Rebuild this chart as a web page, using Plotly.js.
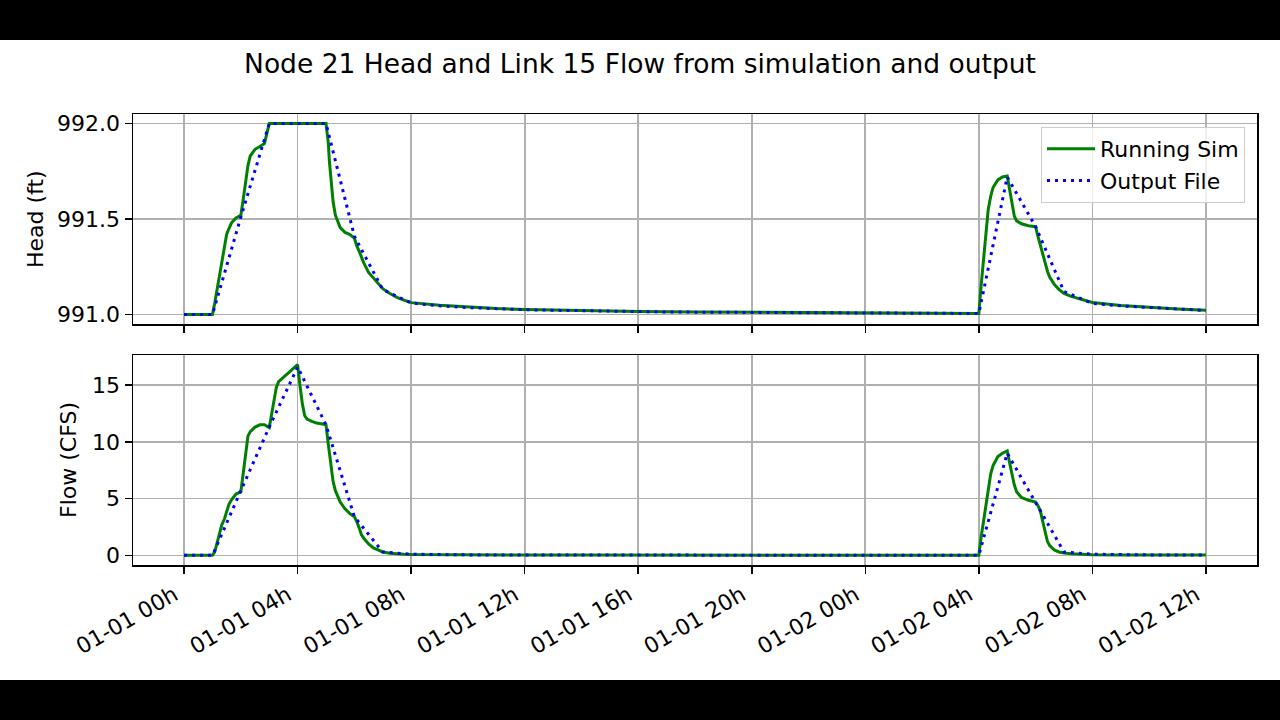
<!DOCTYPE html>
<html>
<head>
<meta charset="utf-8">
<script src="https://cdn.plot.ly/plotly-3.0.1.min.js"></script>
<style>
  html, body { margin: 0; padding: 0; background: #000; width: 1280px; height: 720px; overflow: hidden; }
  #plot { position: absolute; left: 0; top: 40px; width: 1280px; height: 640px; background: #fff; }
</style>
</head>
<body>
<div id="plot"></div>
<script>
// ---- Data (hours since 01-01 00h) ----
const simHeadHours = [0, 1.0, 1.08, 1.17, 1.25, 1.33, 1.42, 1.5, 1.58, 1.67, 1.83, 2.0, 2.08, 2.17, 2.25, 2.33, 2.5, 2.67, 2.83, 2.92, 3.0,
  5.0, 5.08, 5.12, 5.17, 5.25, 5.33, 5.42, 5.5, 5.67, 5.83, 6.0, 6.08, 6.17, 6.33, 6.5, 6.67, 6.83, 7.0, 7.25, 7.5, 7.75, 8.0,
  9, 10, 11, 12, 14, 16, 18, 20, 22, 24, 26, 27,
  28.0, 28.08, 28.17, 28.25, 28.33, 28.42, 28.5, 28.67, 28.83, 29.0, 29.08, 29.17, 29.25, 29.33, 29.5, 29.75, 30.0,
  30.08, 30.17, 30.25, 30.33, 30.42, 30.5, 30.67, 30.83, 31.0, 31.25, 31.5, 31.75, 32.0, 33, 34, 35, 36];
const simHead = [991.0, 991.0, 991.06, 991.14, 991.22, 991.29, 991.37, 991.42, 991.45, 991.48, 991.505, 991.52, 991.6, 991.7, 991.78, 991.83, 991.865, 991.88, 991.895, 991.95, 992.0,
  992.0, 991.9, 991.8, 991.7, 991.59, 991.52, 991.48, 991.455, 991.43, 991.42, 991.40, 991.36, 991.33, 991.27, 991.22, 991.19, 991.16, 991.135, 991.11, 991.09, 991.075, 991.062,
  991.048, 991.038, 991.031, 991.026, 991.02, 991.016, 991.013, 991.011, 991.009, 991.008, 991.007, 991.006,
  991.005, 991.15, 991.30, 991.45, 991.55, 991.62, 991.665, 991.705, 991.72, 991.725, 991.65, 991.565, 991.515, 991.49, 991.475, 991.465, 991.46,
  991.41, 991.36, 991.32, 991.27, 991.225, 991.195, 991.155, 991.13, 991.11, 991.095, 991.083, 991.072, 991.063, 991.047, 991.037, 991.029, 991.022];

const simFlowHours = [0, 1.0, 1.08, 1.17, 1.25, 1.33, 1.42, 1.5, 1.58, 1.67, 1.83, 2.0, 2.08, 2.17, 2.25, 2.33, 2.5, 2.67, 2.83, 3.0,
  3.08, 3.17, 3.25, 3.33, 3.5, 3.67, 3.83, 4.0, 4.08, 4.17, 4.25, 4.33, 4.5, 4.67, 4.83, 5.0,
  5.08, 5.17, 5.25, 5.33, 5.5, 5.67, 5.83, 6.0, 6.08, 6.17, 6.25, 6.33, 6.5, 6.67, 6.83, 7.0, 7.25, 7.5, 7.75, 8.0,
  9, 10, 11, 12, 14, 16, 18, 20, 22, 24, 26, 27,
  28.0, 28.08, 28.17, 28.25, 28.33, 28.42, 28.5, 28.67, 28.83, 29.0, 29.08, 29.17, 29.25, 29.33, 29.5, 29.75, 30.0,
  30.08, 30.17, 30.25, 30.33, 30.42, 30.5, 30.67, 30.83, 31.0, 31.25, 31.5, 31.75, 32.0, 33, 34, 35, 36];
const simFlow = [0, 0, 0.3, 1.2, 2.0, 2.7, 3.2, 3.9, 4.5, 4.9, 5.4, 5.6, 7.2, 9.0, 10.5, 10.9, 11.3, 11.5, 11.5, 11.25,
  12.5, 13.8, 14.8, 15.3, 15.7, 16.1, 16.45, 16.8, 15.0, 13.3, 12.3, 12.0, 11.8, 11.65, 11.6, 11.5,
  9.8, 7.8, 6.5, 5.7, 4.7, 4.1, 3.7, 3.4, 3.0, 2.4, 1.8, 1.5, 1.0, 0.65, 0.45, 0.3, 0.18, 0.12, 0.09, 0.07,
  0.05, 0.04, 0.03, 0.025, 0.02, 0.015, 0.012, 0.01, 0.008, 0.007, 0.006, 0.005,
  0.005, 1.6, 3.0, 4.4, 5.8, 7.2, 7.9, 8.7, 9.0, 9.2, 8.2, 7.1, 6.2, 5.6, 5.1, 4.85, 4.7,
  4.4, 3.9, 3.0, 2.0, 1.2, 0.85, 0.45, 0.3, 0.2, 0.15, 0.1, 0.08, 0.06, 0.04, 0.03, 0.025, 0.02];

const outHours = [0, 1, 2, 3, 4, 5, 6, 7, 8, 9, 10, 11, 12, 13, 14, 15, 16, 17, 18, 19, 20, 21, 22, 23, 24, 25, 26, 27, 28, 29, 30, 31, 32, 33, 34, 35, 36];
const outHead = [991.0, 991.0, 991.51, 992.0, 992.0, 992.0, 991.41, 991.13, 991.06, 991.045, 991.036, 991.030, 991.025, 991.022, 991.019, 991.017, 991.015, 991.013, 991.012, 991.011, 991.010, 991.009, 991.008, 991.007, 991.007, 991.006, 991.006, 991.005, 991.005, 991.72, 991.46, 991.12, 991.058, 991.045, 991.036, 991.029, 991.021];
const outFlow = [0, 0, 5.7, 11.3, 16.6, 11.5, 3.4, 0.3, 0.1, 0.05, 0.04, 0.03, 0.025, 0.022, 0.02, 0.018, 0.016, 0.014, 0.012, 0.011, 0.01, 0.009, 0.008, 0.007, 0.006, 0.006, 0.005, 0.005, 0.005, 9.0, 4.7, 0.3, 0.1, 0.05, 0.04, 0.03, 0.02];

const seriesNames = ["Running Sim", "Output File"];
const titleText = "Node 21 Head and Link 15 Flow from simulation and output";
const yTitles = ["Head (ft)", "Flow (CFS)"];

// ---- helpers ----
const base = Date.UTC(2021, 0, 1, 0, 0, 0);
function toDate(h) {
  const d = new Date(base + Math.round(h * 3600) * 1000);
  const p = n => String(n).padStart(2, '0');
  return d.getUTCFullYear() + '-' + p(d.getUTCMonth() + 1) + '-' + p(d.getUTCDate()) + ' ' +
    p(d.getUTCHours()) + ':' + p(d.getUTCMinutes()) + ':' + p(d.getUTCSeconds());
}

const green = '#008000';
const blue = '#0000ff';
const FONT = 'DejaVu Sans, Liberation Sans, sans-serif';
const FS = 22;

const traces = [
  { x: simHeadHours.map(toDate), y: simHead, xaxis: 'x', yaxis: 'y', mode: 'lines', name: seriesNames[0],
    line: { color: green, width: 3 }, legendgroup: 'a' },
  { x: outHours.map(toDate), y: outHead, xaxis: 'x', yaxis: 'y', mode: 'lines', name: seriesNames[1],
    line: { color: blue, width: 3, dash: '3px,5px' }, legendgroup: 'b' },
  { x: simFlowHours.map(toDate), y: simFlow, xaxis: 'x2', yaxis: 'y2', mode: 'lines', name: seriesNames[0],
    line: { color: green, width: 3 }, showlegend: false, legendgroup: 'a' },
  { x: outHours.map(toDate), y: outFlow, xaxis: 'x2', yaxis: 'y2', mode: 'lines', name: seriesNames[1],
    line: { color: blue, width: 3, dash: '3px,5px' }, showlegend: false, legendgroup: 'b' }
];

const xRange = [toDate(-1.8), toDate(37.8)];
const axCommon = {
  showline: true, mirror: true, linecolor: '#000', linewidth: 1.5,
  ticks: 'outside', ticklen: 7, tickwidth: 1.5, tickcolor: '#000',
  showgrid: true, gridcolor: '#b0b0b0', gridwidth: 1.6,
  zeroline: false,
  tickfont: { family: FONT, size: FS, color: '#000' }
};

const layout = {
  width: 1280, height: 640,
  paper_bgcolor: '#fff', plot_bgcolor: '#fff',
  margin: { l: 133, r: 23, t: 74, b: 115 },
  font: { family: FONT, size: FS, color: '#000' },
  title: { text: titleText, font: { family: FONT, size: 26.5, color: '#000' },
    x: 0.5, xref: 'container', xanchor: 'center', y: 1 - 24 / 640, yref: 'container', yanchor: 'middle' },
  showlegend: true,
  legend: {
    x: (1245 - 133) / 1124, xanchor: 'right', xref: 'paper',
    y: 1 - (87 - 74) / 451, yanchor: 'top', yref: 'paper',
    bgcolor: 'rgba(255,255,255,0.8)', bordercolor: '#cccccc', borderwidth: 1,
    font: { family: FONT, size: FS, color: '#000' },
    itemwidth: 48, tracegroupgap: 0
  },
  xaxis: Object.assign({}, axCommon, {
    type: 'date', range: xRange, domain: [0, 1], anchor: 'y',
    tick0: toDate(0), dtick: 4 * 3600 * 1000, showticklabels: false
  }),
  yaxis: Object.assign({}, axCommon, {
    range: [990.95, 992.05], domain: [1 - 210 / 451, 1], anchor: 'x',
    tickmode: 'array', tickvals: [991.0, 991.5, 992.0], ticktext: ['991.0', '991.5', '992.0']
  }),
  xaxis2: Object.assign({}, axCommon, {
    type: 'date', range: xRange, domain: [0, 1], anchor: 'y2', matches: 'x',
    tick0: toDate(0), dtick: 4 * 3600 * 1000, tickformat: '%m-%d %Hh', tickangle: -30,
    ticklabelshift: -10
  }),
  yaxis2: Object.assign({}, axCommon, {
    range: [-0.85, 17.65], domain: [0, 210 / 451], anchor: 'x2',
    tickmode: 'array', tickvals: [0, 5, 10, 15], ticktext: ['0', '5', '10', '15']
  }),
  annotations: [
    { text: yTitles[0], xref: 'paper', yref: 'paper', x: (35 - 133) / 1124, y: 1 - 105 / 451,
      xanchor: 'center', yanchor: 'middle', textangle: -90, showarrow: false,
      font: { family: FONT, size: FS, color: '#000' } },
    { text: yTitles[1], xref: 'paper', yref: 'paper', x: (68 - 133) / 1124, y: 105 / 451,
      xanchor: 'center', yanchor: 'middle', textangle: -90, showarrow: false,
      font: { family: FONT, size: FS, color: '#000' } }
  ]
};

Plotly.newPlot('plot', traces, layout, { displayModeBar: false, staticPlot: true });
</script>
</body>
</html>
